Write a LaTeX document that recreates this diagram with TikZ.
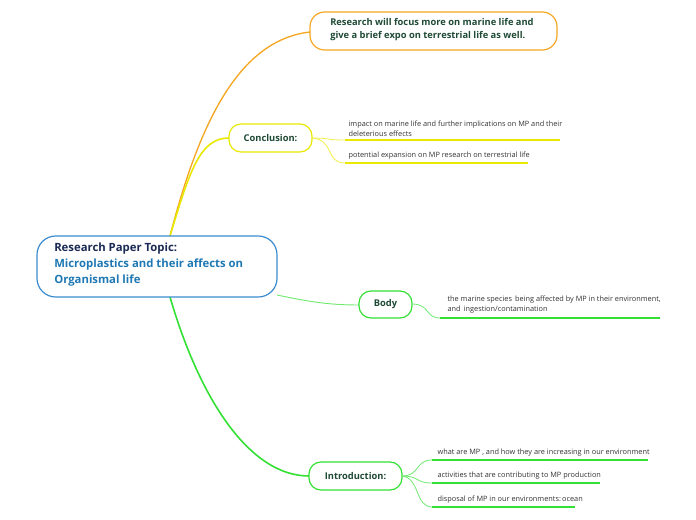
\documentclass[tikz,border=0pt]{standalone}
\usepackage{fontspec}
\setmainfont{Open Sans}
\definecolor{mblue}{HTML}{3C8DD0}
\definecolor{navy}{HTML}{1B2A55}
\definecolor{tblue}{HTML}{1F78B4}
\definecolor{orng}{HTML}{F5A623}
\definecolor{yel}{HTML}{E8E800}
\definecolor{grn}{HTML}{33E033}
\definecolor{dgreen}{HTML}{1F4A35}
\begin{document}
\begin{tikzpicture}[x=0.75pt,y=-0.75pt,
  leaf/.style={anchor=south west,align=left,font=\fontsize{5.5}{7.5}\selectfont,text=black!80,inner sep=1pt},
  ul/.style={line width=1.6pt}]
\useasboundingbox (0,0) rectangle (696,520);
% connectors (behind)
\coordinate (mt) at (170,236);
\coordinate (mb) at (170,297);
\draw[orng,line width=1pt] (mt) .. controls (200,120) and (240,40) .. (310,32);
\draw[yel,line width=1.2pt] (mt) .. controls (190,170) and (200,138) .. (229,138);
\draw[grn!70,line width=0.7pt] (277,295) .. controls (310,302) and (330,305) .. (359,305);
\draw[grn,line width=1.2pt] (mb) .. controls (200,400) and (250,476) .. (309,476);
% main
\node[draw=mblue,line width=0.9pt,rounded corners=14pt,fill=white,inner sep=0pt,minimum width=180pt,minimum height=45.75pt] (main) at (157,266.5) {};
\node[anchor=north west,align=left,font=\fontsize{8.5}{11.7}\selectfont\bfseries,inner sep=0pt] (mtxt) at (54,243) {\textcolor{navy}{Research Paper Topic:}\\\textcolor{tblue}{Microplastics and their affects on}\\\textcolor{tblue}{Organismal life}};
% top
\draw[orng,line width=0.9pt,rounded corners=11pt,fill=white] (310,12) rectangle (557,50);
\node[anchor=north west,align=left,text=dgreen,font=\fontsize{7}{10}\selectfont\bfseries,inner sep=0pt] (top) at (330,18) {Research will focus more on marine life and\\give a brief expo on terrestrial life as well.};
% conclusion
\draw[yel,line width=0.9pt,rounded corners=9pt,fill=white] (229,124) rectangle (312,152);
\node[text=dgreen,font=\fontsize{7}{9}\selectfont\bfseries] (conc) at (270.5,138) {Conclusion:};
\draw[yel!70,line width=0.6pt] (312,138) .. controls (330,138) and (325,140) .. (345,140);
\draw[yel!70,line width=0.6pt] (312,138) .. controls (335,140) and (325,163) .. (345,163);
\draw[yel,ul] (345,140) -- (560,140);
\draw[yel,ul] (345,163) -- (528,163);
\node[leaf] (c1) at (347,138) {impact on marine life and further implications on MP and their\\deleterious effects};
\node[leaf] (c2) at (347,161) {potential expansion on MP research on terrestrial life};
% body
\draw[grn,line width=0.9pt,rounded corners=9pt,fill=white] (359,291) rectangle (412,318);
\node[text=dgreen,font=\fontsize{7}{9}\selectfont\bfseries] (body) at (385.5,304.5) {Body};
\draw[grn!70,line width=0.6pt] (412,304) .. controls (430,304) and (425,318) .. (440,318);
\draw[grn,ul] (440,318) -- (660,318);
\node[leaf] (b1) at (446,315) {the marine species\, being affected by MP in their environment,\\and\, ingestion/contamination};
% intro
\draw[grn,line width=0.9pt,rounded corners=9pt,fill=white] (309,462) rectangle (402,490);
\node[text=dgreen,font=\fontsize{7}{9}\selectfont\bfseries] (intro) at (355.5,476) {Introduction:};
\draw[grn!70,line width=0.6pt] (402,476) .. controls (420,476) and (415,460) .. (432,460);
\draw[grn!70,line width=0.6pt] (402,476) .. controls (420,476) and (415,483) .. (432,483);
\draw[grn!70,line width=0.6pt] (402,476) .. controls (420,478) and (415,507) .. (432,507);
\draw[grn,ul] (432,460) -- (648,460);
\draw[grn,ul] (432,483) -- (600,483);
\draw[grn,ul] (432,507) -- (575,507);
\node[leaf] (i1) at (436,458) {what are MP , and how they are increasing in our environment};
\node[leaf] (i2) at (436,481) {activities that are contributing to MP production};
\node[leaf] (i3) at (436,505) {disposal of MP in our environments:\,ocean};
\end{tikzpicture}
\end{document}
